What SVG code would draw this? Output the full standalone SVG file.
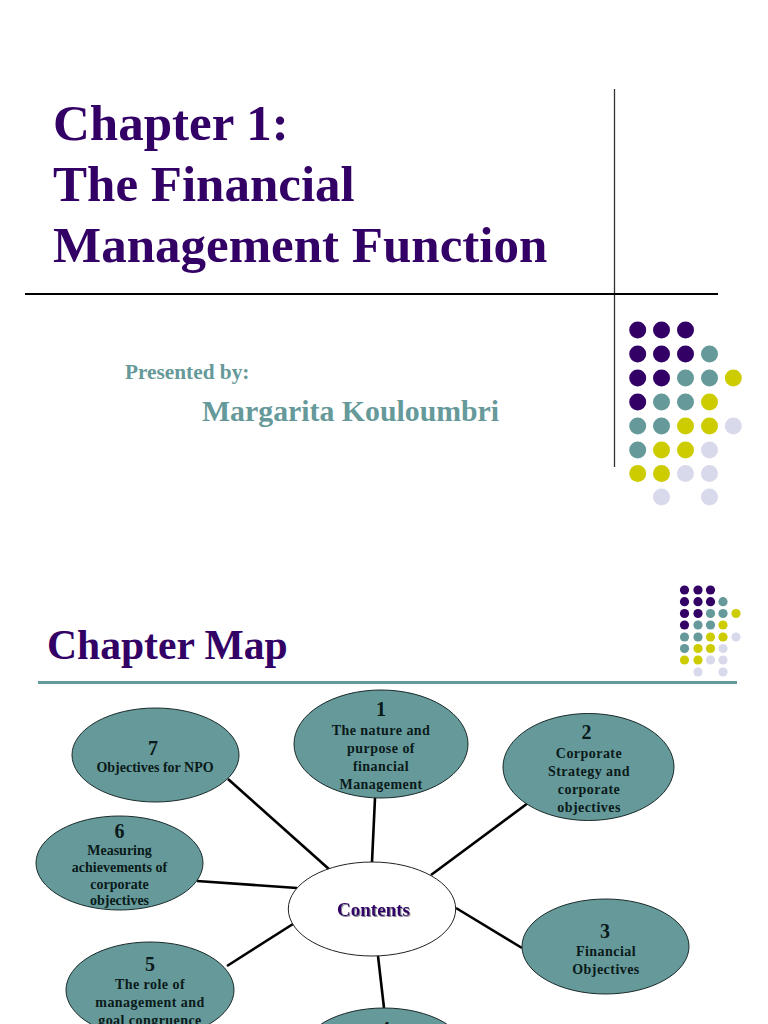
<svg xmlns="http://www.w3.org/2000/svg" width="768" height="1024" viewBox="0 0 768 1024">
<defs>
<filter id="soft" x="-10%" y="-30%" width="120%" height="160%"><feDropShadow dx="1" dy="1" stdDeviation="0.3" flood-color="#8a8a9a"/></filter>
</defs>
<style>
text{font-family:"Liberation Serif","Times New Roman",serif;font-weight:bold}
.t{font-size:51px;fill:#330066}
.n{font-size:20px;fill:#0a1a1a;text-anchor:middle}
.l{font-size:14px;fill:#0a1a1a;text-anchor:middle}
.w{letter-spacing:.45px}
.e{fill:#669999;stroke:#1a2a2a;stroke-width:1}
.c{stroke:#000;stroke-width:2.6;fill:none}
.p{fill:#330066}.g{fill:#669999}.y{fill:#cccc00}.v{fill:#d9d9ec}
</style>
<rect width="768" height="1024" fill="#fff"/>
<g id="slide1">
<text class="t" x="53" y="139.5">Chapter 1:</text>
<text class="t" x="53" y="200.7">The Financial</text>
<text class="t" x="53" y="261.7">Management Function</text>
<line x1="614.5" y1="89" x2="614.5" y2="467" stroke="#333" stroke-width="1.3"/>
<line x1="25" y1="294" x2="718" y2="294" stroke="#000" stroke-width="2"/>
<text x="125" y="379" font-size="21.3" fill="#669999">Presented by:</text>
<text x="202" y="420.5" font-size="29.8" fill="#669999">Margarita Kouloumbri</text>
<g id="dots-large">
<circle class="p" cx="637.7" cy="330" r="8.5"/><circle class="p" cx="661.5" cy="330" r="8.5"/><circle class="p" cx="685.5" cy="330" r="8.5"/>
<circle class="p" cx="637.7" cy="354" r="8.5"/><circle class="p" cx="661.5" cy="354" r="8.5"/><circle class="p" cx="685.5" cy="354" r="8.5"/><circle class="g" cx="709.5" cy="354" r="8.5"/>
<circle class="p" cx="637.7" cy="378" r="8.5"/><circle class="p" cx="661.5" cy="378" r="8.5"/><circle class="g" cx="685.5" cy="378" r="8.5"/><circle class="g" cx="709.5" cy="378" r="8.5"/><circle class="y" cx="733.3" cy="378" r="8.5"/>
<circle class="p" cx="637.7" cy="402" r="8.5"/><circle class="g" cx="661.5" cy="402" r="8.5"/><circle class="g" cx="685.5" cy="402" r="8.5"/><circle class="y" cx="709.5" cy="402" r="8.5"/>
<circle class="g" cx="637.7" cy="426" r="8.5"/><circle class="g" cx="661.5" cy="426" r="8.5"/><circle class="y" cx="685.5" cy="426" r="8.5"/><circle class="y" cx="709.5" cy="426" r="8.5"/><circle class="v" cx="733.3" cy="426" r="8.5"/>
<circle class="g" cx="637.7" cy="450" r="8.5"/><circle class="y" cx="661.5" cy="450" r="8.5"/><circle class="y" cx="685.5" cy="450" r="8.5"/><circle class="v" cx="709.5" cy="450" r="8.5"/>
<circle class="y" cx="637.7" cy="473.5" r="8.5"/><circle class="y" cx="661.5" cy="473.5" r="8.5"/><circle class="v" cx="685.5" cy="473.5" r="8.5"/><circle class="v" cx="709.5" cy="473.5" r="8.5"/>
<circle class="v" cx="661.5" cy="497" r="8.5"/><circle class="v" cx="709.5" cy="497" r="8.5"/>
</g>
</g>
<g id="slide2">
<text x="47" y="658.5" font-size="41.6" fill="#330066">Chapter Map</text>
<rect x="38" y="681" width="699" height="3" fill="#669999"/>
<g id="dots-small">
<circle class="p" cx="684.5" cy="590" r="4.6"/><circle class="p" cx="698" cy="590" r="4.6"/><circle class="p" cx="710.5" cy="590" r="4.6"/>
<circle class="p" cx="684.5" cy="601.7" r="4.6"/><circle class="p" cx="698" cy="601.7" r="4.6"/><circle class="p" cx="710.5" cy="601.7" r="4.6"/><circle class="g" cx="723" cy="601.7" r="4.6"/>
<circle class="p" cx="684.5" cy="613.5" r="4.6"/><circle class="p" cx="698" cy="613.5" r="4.6"/><circle class="g" cx="710.5" cy="613.5" r="4.6"/><circle class="g" cx="723" cy="613.5" r="4.6"/><circle class="y" cx="736" cy="613.5" r="4.6"/>
<circle class="p" cx="684.5" cy="625" r="4.6"/><circle class="g" cx="698" cy="625" r="4.6"/><circle class="g" cx="710.5" cy="625" r="4.6"/><circle class="y" cx="723" cy="625" r="4.6"/>
<circle class="g" cx="684.5" cy="637" r="4.6"/><circle class="g" cx="698" cy="637" r="4.6"/><circle class="y" cx="710.5" cy="637" r="4.6"/><circle class="y" cx="723" cy="637" r="4.6"/><circle class="v" cx="736" cy="637" r="4.6"/>
<circle class="g" cx="684.5" cy="648.5" r="4.6"/><circle class="y" cx="698" cy="648.5" r="4.6"/><circle class="y" cx="710.5" cy="648.5" r="4.6"/><circle class="v" cx="723" cy="648.5" r="4.6"/>
<circle class="y" cx="684.5" cy="660" r="4.6"/><circle class="y" cx="698" cy="660" r="4.6"/><circle class="v" cx="710.5" cy="660" r="4.6"/><circle class="v" cx="723" cy="660" r="4.6"/>
<circle class="v" cx="698" cy="672" r="4.6"/><circle class="v" cx="723" cy="672" r="4.6"/>
</g>
<g id="connectors">
<line class="c" x1="228" y1="779" x2="330" y2="870"/>
<line class="c" x1="375" y1="798" x2="372" y2="862"/>
<line class="c" x1="528" y1="803" x2="431" y2="875"/>
<line class="c" x1="456" y1="908" x2="522" y2="948"/>
<line class="c" x1="197" y1="881" x2="297" y2="888"/>
<line class="c" x1="227" y1="966" x2="293" y2="924"/>
<line class="c" x1="378" y1="956" x2="384" y2="1008"/>
</g>
<g id="node-contents">
<ellipse cx="372" cy="909" rx="83.7" ry="47" fill="#fff" stroke="#222" stroke-width="1"/>
<text x="373.5" y="916" font-size="19" fill="#330066" text-anchor="middle" filter="url(#soft)">Contents</text>
</g>
<g id="node-1">
<ellipse class="e" cx="381" cy="744" rx="87" ry="54"/>
<text class="n" x="381" y="715.5">1</text>
<text class="l w" x="381" y="735">The nature and</text>
<text class="l w" x="381" y="753">purpose of</text>
<text class="l w" x="381" y="771">financial</text>
<text class="l w" x="381" y="788.5">Management</text>
</g>
<g id="node-2">
<ellipse class="e" cx="588.5" cy="767" rx="85.5" ry="53.5"/>
<text class="n" x="586.5" y="739">2</text>
<text class="l w" x="589" y="758">Corporate</text>
<text class="l w" x="589" y="775.5">Strategy and</text>
<text class="l w" x="589" y="793.5">corporate</text>
<text class="l w" x="589" y="811.5">objectives</text>
</g>
<g id="node-3">
<ellipse class="e" cx="605.5" cy="946.5" rx="83.5" ry="47.5"/>
<text class="n" x="605" y="937.5">3</text>
<text class="l w" x="606" y="956">Financial</text>
<text class="l w" x="606" y="974">Objectives</text>
</g>
<g id="node-4">
<ellipse class="e" cx="384" cy="1055" rx="83.5" ry="47"/>
<text class="n" x="385" y="1036">4</text>
</g>
<g id="node-5">
<ellipse class="e" cx="150" cy="990" rx="84" ry="48"/>
<text class="n" x="150" y="971">5</text>
<text class="l w" x="150" y="989">The role of</text>
<text class="l w" x="150" y="1007">management and</text>
<text class="l w" x="150" y="1025">goal congruence</text>
</g>
<g id="node-6">
<ellipse class="e" cx="119.5" cy="863" rx="83.5" ry="47"/>
<text class="n" x="119.5" y="838">6</text>
<text class="l" x="119.5" y="855">Measuring</text>
<text class="l" x="119.5" y="872">achievements of</text>
<text class="l" x="119.5" y="888.5">corporate</text>
<text class="l" x="119.5" y="905">objectives</text>
</g>
<g id="node-7">
<ellipse class="e" cx="155.5" cy="755" rx="83.5" ry="47"/>
<text class="n" x="153" y="755">7</text>
<text class="l" x="155" y="772">Objectives for NPO</text>
</g>
</g>
</svg>
